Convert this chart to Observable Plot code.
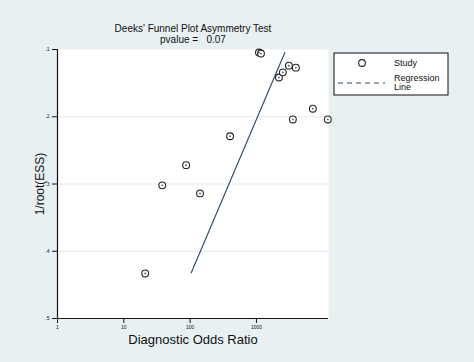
<!DOCTYPE html>
<html>
<head>
<meta charset="utf-8">
<script src="https://cdn.jsdelivr.net/npm/d3@7"></script>
<script src="https://cdn.jsdelivr.net/npm/@observablehq/plot@0.6"></script>
<style>
  html, body { margin: 0; padding: 0; background: #e8f0f2; }
  svg { display: block; }
</style>
</head>
<body>
<div id="chart"></div>
<script>
// Study points: diagnostic odds ratio (x, log scale) and 1/root(ESS) (y)
const studyDOR = [1090, 1170, 2180, 2500, 3080, 3930, 3540, 7080, 11900, 400, 87, 38, 141, 21];
const studyInvRootESS = [0.1045, 0.106, 0.1416, 0.134, 0.124, 0.127, 0.204, 0.188, 0.204, 0.229, 0.272, 0.302, 0.314, 0.433];
// Regression line endpoints
const regDOR = [104, 2680];
const regInvRootESS = [0.432, 0.1045];
// Ticks
const xTicks = [1, 10, 100, 1000];
const xTickLabels = ["1", "10", "100", "1000"];
const yTicks = [0.1, 0.2, 0.3, 0.4, 0.5];
const yTickLabels = [".1", ".2", ".3", ".4", ".5"];
const titleText = "Deeks' Funnel Plot Asymmetry Test";
const subtitleText = "pvalue =   0.07";
const legendLabels = ["Study", "Regression", "Line"];

const studies = studyDOR.map((d, i) => ({dor: d, y: studyInvRootESS[i]}));
const reg = regDOR.map((d, i) => ({dor: d, y: regInvRootESS[i]}));

const W = 474, H = 362;
const chart = Plot.plot({
  width: W,
  height: H,
  marginLeft: 57,
  marginRight: 146,
  marginTop: 49,
  marginBottom: 44,
  style: {background: "#e8f0f2", fontFamily: "Liberation Sans, Arial, sans-serif", color: "#111", overflow: "visible"},
  x: {type: "log", domain: [1, 12200]},
  y: {domain: [0.1, 0.5], reverse: true},
  marks: [
    Plot.frame({fill: "white", stroke: null}),
    Plot.gridY(yTicks.slice(1, 4), {stroke: "#dfe8ea", strokeOpacity: 1}),
    Plot.axisX(xTicks, {tickSize: 5, tickPadding: 2, fontSize: 5, tickFormat: (d) => xTickLabels[xTicks.indexOf(d)],
      label: "Diagnostic Odds Ratio", labelAnchor: "center", labelOffset: 25, labelArrow: "none"}),
    Plot.axisY(yTicks, {tickSize: 5, tickPadding: 3, fontSize: 5, tickFormat: (d) => yTickLabels[yTicks.indexOf(d)],
      label: "1/root(ESS)", labelAnchor: "center", labelOffset: 22, labelArrow: "none"}),
    Plot.ruleX([1], {stroke: "#111", strokeWidth: 1.2}),
    Plot.ruleY([0.5], {stroke: "#111", strokeWidth: 1.2}),
    Plot.line(reg, {x: "dor", y: "y", stroke: "#2c4463", strokeWidth: 1.1}),
    Plot.dot(studies, {x: "dor", y: "y", r: 3.4, stroke: "#222", strokeWidth: 1.1, fill: "white"}),
    Plot.dot(studies, {x: "dor", y: "y", r: 0.9, fill: "#555", stroke: null})
  ]
});

document.getElementById("chart").appendChild(chart);

const svg = d3.select(chart);
svg.selectAll("[aria-label='x-axis label'] text, [aria-label='x-axis label']").attr("font-size", 13);
svg.selectAll("[aria-label='y-axis label'] text, [aria-label='y-axis label']").attr("font-size", 12);

// Title
const tg = svg.append("g").attr("font-family", "Liberation Sans, Arial, sans-serif").attr("fill", "#111").attr("text-anchor", "middle");
tg.append("text").attr("x", 193).attr("y", 32).attr("font-size", 10).text(titleText);
tg.append("text").attr("x", 193).attr("y", 43).attr("font-size", 10).attr("xml:space", "preserve").style("white-space", "pre").text(subtitleText);

// Legend
const lg = svg.append("g").attr("font-family", "Liberation Sans, Arial, sans-serif").attr("fill", "#111").attr("text-anchor", "start");
lg.append("rect").attr("x", 334).attr("y", 53).attr("width", 114).attr("height", 42).attr("fill", "white").attr("stroke", "#111").attr("stroke-width", 1);
lg.append("circle").attr("cx", 362).attr("cy", 63).attr("r", 3.4).attr("fill", "white").attr("stroke", "#222").attr("stroke-width", 1.1);
lg.append("text").attr("x", 394).attr("y", 66).attr("font-size", 9).text(legendLabels[0]);
lg.append("line").attr("x1", 338).attr("x2", 385).attr("y1", 83).attr("y2", 83).attr("stroke", "#2c4463").attr("stroke-width", 1.1).attr("stroke-dasharray", "5,4");
lg.append("text").attr("x", 394).attr("y", 81).attr("font-size", 9).text(legendLabels[1]);
lg.append("text").attr("x", 394).attr("y", 90).attr("font-size", 9).text(legendLabels[2]);
</script>
</body>
</html>
